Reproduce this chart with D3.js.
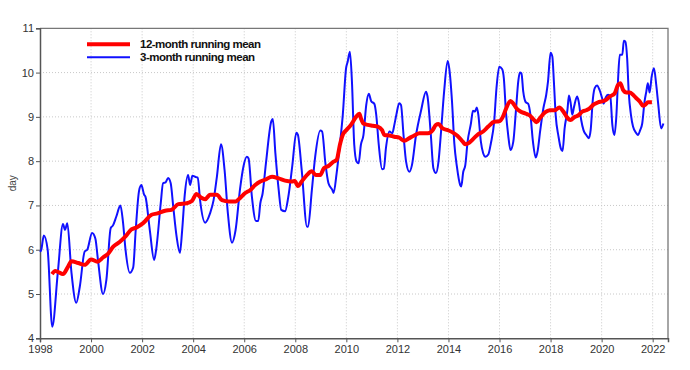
<!DOCTYPE html>
<html>
<head>
<meta charset="utf-8">
<script src="https://cdn.jsdelivr.net/npm/d3@7"></script>
<style>
    body{margin:0;background:#fff;}
    .tickLabel, .tick text{font-family:"Liberation Sans",Arial,Helvetica,sans-serif;font-size:11px;fill:#333;}
    .legendText{font-family:"Liberation Sans",Arial,Helvetica,sans-serif;font-size:11.5px;font-weight:bold;fill:#111;letter-spacing:-0.5px;}
    .yTitle{font-family:"Liberation Sans",Arial,Helvetica,sans-serif;font-size:10px;fill:#444;}
</style>
</head>
<body>
<div id="chart"></div>
<script>
// 3-month running mean, [decimal year, day]
const threeMonthMean = [
    [1998.0,5.95],[1998.05,6.0],[1998.15,6.32],[1998.3,6.0],[1998.48,4.26],[1998.7,5.5],[1998.9,6.58],[1998.98,6.45],
    [1999.07,6.6],[1999.23,5.5],[1999.42,4.8],[1999.56,5.17],[1999.75,5.96],[1999.85,6.0],
    [2000.04,6.38],[2000.17,6.25],[2000.27,5.77],[2000.47,5.0],[2000.6,5.32],[2000.77,6.49],[2000.86,6.55],[2000.99,6.75],
    [2001.15,7.0],[2001.25,6.63],[2001.35,6.0],[2001.52,5.48],[2001.65,5.6],[2001.75,6.45],[2001.88,7.33],[2001.97,7.46],
    [2002.08,7.24],[2002.13,7.2],[2002.3,6.45],[2002.47,5.77],[2002.55,6.0],[2002.73,7.05],[2002.82,7.5],[2002.92,7.52],
    [2003.02,7.62],[2003.12,7.5],[2003.22,6.97],[2003.35,6.3],[2003.48,5.93],[2003.57,6.45],[2003.67,7.24],[2003.8,7.69],[2003.88,7.46],[2003.97,7.67],
    [2004.1,7.64],[2004.18,7.63],[2004.27,7.12],[2004.47,6.61],[2004.66,6.82],[2004.8,7.12],[2004.93,7.65],
    [2005.09,8.38],[2005.23,7.8],[2005.36,6.82],[2005.52,6.16],[2005.66,6.44],[2005.84,7.39],[2005.97,7.88],
    [2006.1,8.1],[2006.17,8.06],[2006.3,7.2],[2006.46,6.65],[2006.55,6.65],[2006.63,7.05],[2006.72,7.27],[2006.85,7.95],
    [2007.06,8.9],[2007.12,8.95],[2007.22,8.18],[2007.35,7.35],[2007.45,6.9],[2007.6,6.87],[2007.72,7.17],[2007.88,7.88],
    [2008.04,8.64],[2008.1,8.6],[2008.25,7.81],[2008.46,6.52],[2008.5,6.52],[2008.65,7.35],[2008.78,8.1],[2008.98,8.69],
    [2009.05,8.67],[2009.18,7.95],[2009.3,7.5],[2009.45,7.35],[2009.5,7.28],[2009.62,7.73],[2009.73,8.29],[2009.86,9.04],[2009.99,10.1],
    [2010.05,10.24],[2010.14,10.47],[2010.22,9.79],[2010.31,8.37],[2010.4,7.99],[2010.48,7.95],[2010.57,8.37],[2010.67,8.59],[2010.78,9.27],[2010.88,9.52],[2010.97,9.36],
    [2011.1,9.29],[2011.17,9.05],[2011.27,8.37],[2011.4,7.82],[2011.47,7.83],[2011.55,8.29],[2011.69,8.67],[2011.8,8.63],[2011.88,8.82],[2011.96,9.05],
    [2012.07,9.31],[2012.14,9.27],[2012.24,8.59],[2012.34,7.99],[2012.47,7.76],[2012.57,7.91],[2012.73,8.59],[2012.93,9.15],
    [2013.12,9.57],[2013.18,9.46],[2013.31,8.59],[2013.41,7.84],[2013.51,7.73],[2013.61,7.99],[2013.71,8.67],[2013.83,9.57],[2013.97,10.26],
    [2014.03,10.1],[2014.14,9.34],[2014.23,8.4],[2014.33,7.88],[2014.46,7.46],[2014.5,7.43],[2014.58,7.76],[2014.66,7.91],[2014.75,8.44],[2014.88,8.85],[2014.96,9.14],
    [2015.04,9.12],[2015.11,9.21],[2015.17,9.05],[2015.27,8.44],[2015.36,8.18],[2015.45,8.1],[2015.56,8.15],[2015.66,8.4],[2015.79,8.89],[2015.88,9.64],[2015.99,10.13],
    [2016.1,10.08],[2016.17,9.87],[2016.25,9.12],[2016.34,8.59],[2016.43,8.25],[2016.54,8.44],[2016.64,9.12],[2016.74,9.83],[2016.8,10.0],[2016.86,9.98],[2016.93,9.57],
    [2017.03,9.33],[2017.12,9.3],[2017.21,9.05],[2017.31,8.44],[2017.42,8.08],[2017.5,8.25],[2017.59,8.67],[2017.72,9.2],[2017.83,9.5],[2017.9,9.8],
    [2018.0,10.45],[2018.07,10.36],[2018.13,9.8],[2018.2,9.04],[2018.31,8.56],[2018.4,8.29],[2018.47,8.23],[2018.55,8.74],[2018.66,9.15],[2018.72,9.48],[2018.79,9.3],[2018.85,9.05],[2018.92,9.23],
    [2019.04,9.46],[2019.1,9.35],[2019.2,8.93],[2019.29,8.7],[2019.4,8.59],[2019.5,8.52],[2019.57,8.7],[2019.66,9.42],[2019.73,9.65],[2019.82,9.71],[2019.93,9.59],
    [2020.02,9.42],[2020.08,9.3],[2020.16,9.44],[2020.25,9.5],[2020.34,9.46],[2020.42,8.82],[2020.5,8.59],[2020.58,9.05],[2020.64,9.8],[2020.71,10.4],[2020.81,10.4],[2020.87,10.72],[2020.93,10.7],
    [2021.0,10.32],[2021.06,9.57],[2021.15,9.04],[2021.23,8.78],[2021.36,8.63],[2021.42,8.59],[2021.51,8.7],[2021.59,8.85],[2021.68,9.34],[2021.75,9.57],[2021.81,9.76],[2021.88,9.55],[2021.96,9.91],
    [2022.05,10.1],[2022.14,9.72],[2022.22,9.27],[2022.33,8.74],[2022.42,8.85]
];

// 12-month running mean, [decimal year, day]
const twelveMonthMean = [
    [1998.47,5.45],[1998.6,5.52],[1998.7,5.5],[1998.9,5.45],[1999.1,5.62],[1999.23,5.74],[1999.5,5.7],[1999.75,5.66],
    [2000.0,5.78],[2000.25,5.73],[2000.48,5.83],[2000.65,5.9],[2000.87,6.07],[2001.13,6.18],[2001.35,6.3],[2001.58,6.46],[2001.77,6.5],
    [2002.04,6.6],[2002.37,6.79],[2002.6,6.82],[2002.9,6.88],[2003.15,6.9],[2003.42,7.03],[2003.75,7.05],[2003.95,7.1],
    [2004.13,7.26],[2004.3,7.18],[2004.47,7.14],[2004.66,7.24],[2004.93,7.24],[2005.13,7.12],[2005.4,7.09],[2005.66,7.09],[2005.84,7.17],
    [2006.04,7.28],[2006.24,7.35],[2006.43,7.46],[2006.63,7.54],[2006.82,7.58],[2007.09,7.65],[2007.35,7.61],[2007.6,7.56],[2007.86,7.54],[2007.98,7.55],
    [2008.1,7.44],[2008.25,7.54],[2008.46,7.69],[2008.65,7.77],[2008.8,7.69],[2008.98,7.69],[2009.12,7.84],[2009.3,7.89],[2009.5,7.99],[2009.62,8.03],[2009.76,8.4],[2009.88,8.62],
    [2010.0,8.7],[2010.18,8.82],[2010.38,9.0],[2010.51,9.07],[2010.57,8.97],[2010.67,8.85],[2010.84,8.82],[2011.03,8.8],[2011.23,8.78],[2011.4,8.7],[2011.49,8.59],[2011.69,8.58],[2011.88,8.55],
    [2012.07,8.53],[2012.27,8.46],[2012.47,8.52],[2012.66,8.58],[2012.86,8.63],[2013.05,8.63],[2013.2,8.63],[2013.38,8.7],[2013.51,8.82],[2013.61,8.84],[2013.77,8.74],[2013.97,8.7],
    [2014.16,8.65],[2014.36,8.57],[2014.56,8.44],[2014.66,8.38],[2014.82,8.42],[2015.0,8.52],[2015.17,8.61],[2015.36,8.67],[2015.56,8.78],[2015.79,8.89],[2015.99,8.9],
    [2016.13,9.0],[2016.26,9.19],[2016.43,9.36],[2016.54,9.3],[2016.67,9.19],[2016.82,9.12],[2017.0,9.08],[2017.19,9.03],[2017.32,8.95],[2017.45,8.88],[2017.58,8.97],[2017.78,9.1],[2017.97,9.15],
    [2018.17,9.15],[2018.34,9.21],[2018.5,9.12],[2018.63,9.0],[2018.78,8.93],[2018.95,9.0],[2019.08,9.03],[2019.24,9.12],[2019.4,9.15],[2019.53,9.19],[2019.69,9.28],[2019.86,9.33],
    [2020.0,9.35],[2020.16,9.38],[2020.32,9.46],[2020.51,9.53],[2020.64,9.72],[2020.73,9.76],[2020.84,9.61],[2020.97,9.55],[2021.1,9.55],[2021.23,9.5],[2021.36,9.42],[2021.49,9.35],[2021.62,9.25],[2021.72,9.28],[2021.81,9.33],[2021.97,9.33]
];

const xTicks = d3.range(1998, 2023, 2);
const yTicks = [4, 5, 6, 7, 8, 9, 10, 11];
const seriesNames = ["12-month running mean", "3-month running mean"];
const seriesColors = ["#ff0000", "#1010ff"];

const size = {width: 690, height: 370};
const margin = {top: 28.3, right: 22, bottom: 31.7, left: 40};
const width = size.width - margin.left - margin.right;
const height = size.height - margin.top - margin.bottom;

const svg = d3.select("#chart").append("svg")
    .attr("width", size.width)
    .attr("height", size.height)
    .append("g")
    .attr("transform", "translate(" + margin.left + "," + margin.top + ")");

const x = d3.scaleLinear().domain([1998, 2022.6]).range([0, width]);
const y = d3.scaleLinear().domain([4, 11]).range([height, 0]);

// dotted grid
svg.append("g").selectAll("line")
    .data(yTicks.slice(1, -1))
    .join("line")
    .attr("x1", 0).attr("x2", width)
    .attr("y1", d=>y(d)).attr("y2", d=>y(d))
    .attr("stroke", "#c8c8c8").attr("stroke-dasharray", "1,2");
svg.append("g").selectAll("line")
    .data(xTicks.slice(1))
    .join("line")
    .attr("y1", 0).attr("y2", height)
    .attr("x1", d=>x(d)).attr("x2", d=>x(d))
    .attr("stroke", "#c8c8c8").attr("stroke-dasharray", "1,2");

// frame top / right
svg.append("path")
    .attr("d", "M0,0H" + width + "V" + height)
    .attr("fill", "none")
    .attr("stroke", "#777")
    .attr("stroke-width", 1.3);

const xAxis = svg.append("g")
    .attr("transform", "translate(0," + height + ")")
    .call(d3.axisBottom(x).tickValues(xTicks).tickFormat(d3.format("d")).tickSize(4).tickPadding(3));
const yAxis = svg.append("g")
    .call(d3.axisLeft(y).tickValues(yTicks).tickFormat(d3.format("d")).tickSize(4).tickPadding(2));
[xAxis, yAxis].forEach(axis=>{
    axis.select(".domain").attr("stroke", "#555").attr("stroke-width", 1.5);
    axis.selectAll(".tick line").attr("stroke", "#555");
});

svg.append("text")
    .attr("class", "yTitle")
    .attr("transform", "translate(" + (-24) + "," + (height / 2) + ") rotate(-90)")
    .attr("text-anchor", "middle")
    .text("day");

const line = d3.line()
    .x(d=>x(d[0]))
    .y(d=>y(d[1]))
    .curve(d3.curveMonotoneX);

svg.append("path")
    .datum(threeMonthMean)
    .attr("fill", "none")
    .attr("stroke", seriesColors[1])
    .attr("stroke-width", 2)
    .attr("d", line);

svg.append("path")
    .datum(twelveMonthMean)
    .attr("fill", "none")
    .attr("stroke", seriesColors[0])
    .attr("stroke-width", 4)
    .attr("stroke-linejoin", "round")
    .attr("d", line);

// legend
const legend = svg.append("g").attr("transform", "translate(47,16)");
const legendRow = legend.selectAll("g")
    .data(seriesNames)
    .join("g")
    .attr("transform", (d,i)=>"translate(0," + i * 13 + ")");
legendRow.append("line")
    .attr("x1", 0).attr("x2", 43)
    .attr("stroke", (d,i)=>seriesColors[i])
    .attr("stroke-width", (d,i)=>i === 0 ? 4 : 2);
legendRow.append("text")
    .attr("class", "legendText")
    .attr("x", 53)
    .attr("y", 4)
    .text(d=>d);
</script>
</body>
</html>
